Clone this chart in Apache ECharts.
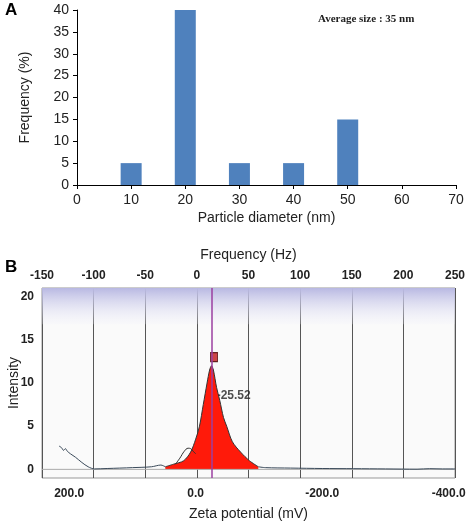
<!DOCTYPE html>
<html><head><meta charset="utf-8">
<script src="https://cdn.jsdelivr.net/npm/echarts@6/dist/echarts.min.js"></script>
<style>body{margin:0;background:#fff}#c{width:474px;height:530px}</style></head>
<body><div id="c"></div>
<script>
const sizeCats=[10,20,30,40,50];
const sizeFreq=[5,40,5,5,15];
const peakZeta=[48,35,19,8,0,-6,-12,-18,-22,-25,-28,-33,-38,-44,-49,-58,-71,-85,-99];
const peakInt=[0.3,0.6,1,2,3.5,5,7.5,10,11.5,12,11.5,9.5,8,6,5,3.2,2,1,0.3];
const baseZeta=[216,212,209,206,203,198,190,180,170,160,140,100,70,55,48];
const baseInt=[2.7,2.5,2.2,2.4,2.1,1.8,1.4,0.8,0.3,0.05,0.1,0.2,0.3,0.5,0.3];
const tailZeta=[-99,-110,-150,-200,-250,-300,-350,-370,-390,-410];
const tailInt=[0.3,0.2,0.15,0.1,0.08,0.05,0.02,0.08,0.05,0.05];
const bumpZeta=[32,25,18,12,8,4,0];
const bumpInt=[0.6,1.3,2.1,2.45,2.4,2.1,1.8];
const peakLabel='-25.52';
const axisFont='Liberation Sans';
const pair=(a,b)=>a.map((v,i)=>[v,b[i]]);
const chart=echarts.init(document.getElementById('c'));
chart.setOption({
 animation:false,
 textStyle:{fontFamily:axisFont},
 graphic:[
  {type:'text',left:5,top:2,style:{text:'A',font:'bold 17px Liberation Sans',fill:'#000'}},
  {type:'text',left:5,top:259,style:{text:'B',font:'bold 17px Liberation Sans',fill:'#000'}},
  {type:'text',left:318,top:14,style:{text:'Average size : 35 nm',font:'bold 11px Liberation Serif',fill:'#222'}},
  {type:'text',left:5,top:383,rotation:Math.PI/2,style:{text:'Intensity',font:'14px Liberation Sans',fill:'#222',align:'center',verticalAlign:'middle'},x:14,y:383,left:null,top:null}
 ],
 grid:[
  {left:77,right:18,top:10,bottom:345,containLabel:false,outerBoundsMode:'none'},
  {left:42,right:19,top:288,bottom:52,show:true,borderColor:'#999',backgroundColor:'#fafafa',containLabel:false,outerBoundsMode:'none'}
 ],
 xAxis:[
  {gridIndex:0,type:'value',min:0,max:70,interval:10,
   name:'Particle diameter (nm)',nameLocation:'middle',nameGap:26,nameTextStyle:{fontSize:14,color:'#222'},
   axisLine:{lineStyle:{color:'#000'}},axisTick:{show:true,length:4,lineStyle:{color:'#000'}},
   axisLabel:{fontSize:14,color:'#222'},splitLine:{show:false}},
  {gridIndex:1,type:'value',min:-410,max:243,inverse:true,interval:10,position:'bottom',
   name:'Zeta potential (mV)',nameLocation:'middle',nameGap:29,nameTextStyle:{fontSize:14,color:'#222'},
   axisLine:{show:false},axisTick:{show:false},splitLine:{show:false},
   axisLabel:{fontSize:12,fontWeight:'bold',color:'#222',margin:10,
     formatter:v=>(Math.round(v)%200===0?v.toFixed(1):'')}},
  {gridIndex:1,type:'value',min:-150,max:250,interval:50,position:'top',
   name:'Frequency (Hz)',nameLocation:'middle',nameGap:26,nameTextStyle:{fontSize:14,color:'#222'},
   axisLine:{show:false},axisTick:{show:false},
   axisLabel:{fontSize:12,fontWeight:'bold',color:'#222',margin:6},
   splitLine:{show:true,lineStyle:{color:'#555',width:1}}}
 ],
 yAxis:[
  {gridIndex:0,type:'value',min:0,max:40,interval:5,
   name:'Frequency (%)',nameLocation:'middle',nameGap:45,nameTextStyle:{fontSize:14,color:'#222'},
   axisLine:{show:true,lineStyle:{color:'#000'}},axisTick:{show:true,length:4,lineStyle:{color:'#000'}},
   axisLabel:{fontSize:14,color:'#222'},splitLine:{show:false}},
  {gridIndex:1,type:'value',min:-1,max:21,interval:1,
   axisLine:{show:false},axisTick:{show:false},splitLine:{show:false},
   axisLabel:{fontSize:12,fontWeight:'bold',color:'#222',margin:8,
     formatter:v=>(Math.round(v)%5===0&&v>=0?String(Math.round(v)):'')}}
 ],
 series:[
  {type:'bar',xAxisIndex:0,yAxisIndex:0,data:pair(sizeCats,sizeFreq),barWidth:21,itemStyle:{color:'#4f81bd'}},
  {type:'line',xAxisIndex:1,yAxisIndex:1,data:[[-410,0],[243,0]],symbol:'none',silent:true,
   lineStyle:{color:'#aaa',width:1},
   markArea:{silent:true,itemStyle:{color:{type:'linear',x:0,y:0,x2:0,y2:1,colorStops:[{offset:0,color:'#b8b8e2'},{offset:1,color:'rgba(240,240,250,0.2)'}]}},
     data:[[{yAxis:16.8},{yAxis:21}]]}},
  {type:'line',xAxisIndex:1,yAxisIndex:1,data:pair(peakZeta,peakInt),symbol:'none',smooth:0.3,
   lineStyle:{color:'#333',width:1},areaStyle:{color:'#ff1a0a',opacity:1,origin:0}},
  {type:'line',xAxisIndex:1,yAxisIndex:1,data:pair(baseZeta,baseInt),symbol:'none',smooth:0.3,lineStyle:{color:'#3a4a5a',width:1}},
  {type:'line',xAxisIndex:1,yAxisIndex:1,data:pair(tailZeta,tailInt),symbol:'none',smooth:0.3,lineStyle:{color:'#3a4a5a',width:1}},
  {type:'line',xAxisIndex:1,yAxisIndex:1,data:pair(bumpZeta,bumpInt),symbol:'none',smooth:0.4,lineStyle:{color:'#333',width:1}},
  {type:'scatter',xAxisIndex:1,yAxisIndex:1,data:[[-29,13]],symbol:'rect',symbolSize:[7,9],
   itemStyle:{color:'#c0181a',borderColor:'#400',borderWidth:1},
   markLine:{silent:true,symbol:'none',label:{show:false},lineStyle:{color:'#9b3fa0',width:1.5,type:'solid'},data:[{xAxis:-25.52}]}},
  {type:'scatter',xAxisIndex:1,yAxisIndex:1,data:[[-30,8.5]],symbolSize:0,
   label:{show:true,formatter:peakLabel,position:'right',distance:2,fontSize:12,fontWeight:'bold',color:'#222'}}
 ]
});
</script></body></html>
